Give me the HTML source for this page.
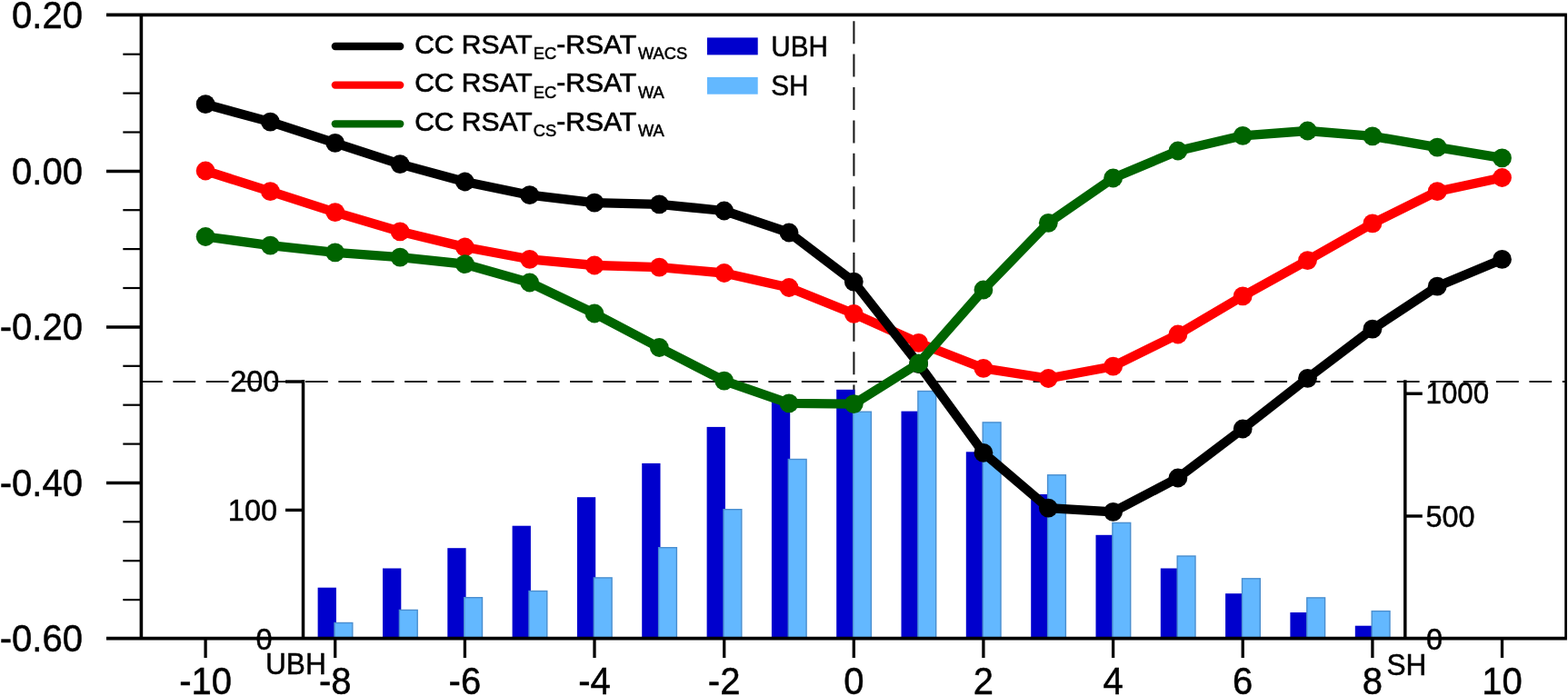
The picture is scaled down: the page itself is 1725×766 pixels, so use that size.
<!DOCTYPE html>
<html lang="en"><head><meta charset="utf-8"><title>Lead-lag correlation of RSAT with UBH and SH frequency</title>
<style>html,body{margin:0;padding:0;background:#fff;}body{width:1725px;height:766px;overflow:hidden;}svg{display:block;}text{font-family:"Liberation Sans", sans-serif;fill:#000;}</style>
</head><body>
<svg width="1725" height="766" viewBox="0 0 1725 766">
<rect x="0" y="0" width="1725" height="766" fill="#ffffff"/>
<g stroke="#1a1a1a" stroke-width="2.1" fill="none">
<line x1="939.4" y1="23.2" x2="939.4" y2="702.6" stroke-dasharray="25.0 11.4"/>
<line x1="154.0" y1="420.0" x2="1722.6" y2="420.0" stroke-dasharray="24.8 11.59" stroke-dashoffset="0"/>
</g>
<g>
<rect x="349.6" y="646.7" width="20.3" height="55.9" fill="#0000cd"/>
<rect x="421.0" y="625.5" width="20.3" height="77.1" fill="#0000cd"/>
<rect x="492.3" y="603.2" width="20.3" height="99.4" fill="#0000cd"/>
<rect x="563.6" y="578.7" width="20.3" height="123.9" fill="#0000cd"/>
<rect x="634.9" y="547.2" width="20.3" height="155.4" fill="#0000cd"/>
<rect x="706.2" y="509.9" width="20.3" height="192.7" fill="#0000cd"/>
<rect x="777.6" y="469.9" width="20.3" height="232.7" fill="#0000cd"/>
<rect x="848.9" y="440.0" width="20.3" height="262.6" fill="#0000cd"/>
<rect x="920.2" y="428.8" width="20.3" height="273.8" fill="#0000cd"/>
<rect x="991.5" y="452.6" width="20.3" height="250.0" fill="#0000cd"/>
<rect x="1062.8" y="497.3" width="20.3" height="205.3" fill="#0000cd"/>
<rect x="1134.2" y="544.0" width="20.3" height="158.6" fill="#0000cd"/>
<rect x="1205.5" y="588.8" width="20.3" height="113.8" fill="#0000cd"/>
<rect x="1276.8" y="625.5" width="20.3" height="77.1" fill="#0000cd"/>
<rect x="1348.1" y="653.2" width="20.3" height="49.4" fill="#0000cd"/>
<rect x="1419.4" y="674.0" width="20.3" height="28.6" fill="#0000cd"/>
<rect x="1490.8" y="688.7" width="20.3" height="13.9" fill="#0000cd"/>
<rect x="368.0" y="685.5" width="19.8" height="17.1" fill="#63b8ff" stroke="#4a8ecf" stroke-width="1.4"/>
<rect x="439.4" y="671.4" width="19.8" height="31.2" fill="#63b8ff" stroke="#4a8ecf" stroke-width="1.4"/>
<rect x="510.7" y="657.7" width="19.8" height="44.9" fill="#63b8ff" stroke="#4a8ecf" stroke-width="1.4"/>
<rect x="582.0" y="650.5" width="19.8" height="52.1" fill="#63b8ff" stroke="#4a8ecf" stroke-width="1.4"/>
<rect x="653.3" y="635.9" width="19.8" height="66.7" fill="#63b8ff" stroke="#4a8ecf" stroke-width="1.4"/>
<rect x="724.6" y="602.7" width="19.8" height="99.9" fill="#63b8ff" stroke="#4a8ecf" stroke-width="1.4"/>
<rect x="796.0" y="560.7" width="19.8" height="141.9" fill="#63b8ff" stroke="#4a8ecf" stroke-width="1.4"/>
<rect x="867.3" y="505.5" width="19.8" height="197.1" fill="#63b8ff" stroke="#4a8ecf" stroke-width="1.4"/>
<rect x="938.6" y="453.2" width="19.8" height="249.4" fill="#63b8ff" stroke="#4a8ecf" stroke-width="1.4"/>
<rect x="1009.9" y="430.5" width="19.8" height="272.1" fill="#63b8ff" stroke="#4a8ecf" stroke-width="1.4"/>
<rect x="1081.2" y="464.9" width="19.8" height="237.7" fill="#63b8ff" stroke="#4a8ecf" stroke-width="1.4"/>
<rect x="1152.6" y="522.8" width="19.8" height="179.8" fill="#63b8ff" stroke="#4a8ecf" stroke-width="1.4"/>
<rect x="1223.9" y="575.4" width="19.8" height="127.2" fill="#63b8ff" stroke="#4a8ecf" stroke-width="1.4"/>
<rect x="1295.2" y="612.0" width="19.8" height="90.6" fill="#63b8ff" stroke="#4a8ecf" stroke-width="1.4"/>
<rect x="1366.5" y="636.8" width="19.8" height="65.8" fill="#63b8ff" stroke="#4a8ecf" stroke-width="1.4"/>
<rect x="1437.8" y="657.9" width="19.8" height="44.7" fill="#63b8ff" stroke="#4a8ecf" stroke-width="1.4"/>
<rect x="1509.2" y="672.6" width="19.8" height="30.0" fill="#63b8ff" stroke="#4a8ecf" stroke-width="1.4"/>
</g>
<g stroke="#000" fill="none" stroke-linecap="butt">
<line x1="117.0" y1="16.3" x2="1723.9" y2="16.3" stroke-width="3.8"/>
<line x1="117.0" y1="702.7" x2="1723.9" y2="702.7" stroke-width="3.8"/>
<line x1="155.4" y1="16.4" x2="155.4" y2="702.6" stroke-width="3.6"/>
<line x1="1722.6" y1="16.4" x2="1722.6" y2="702.6" stroke-width="2.7"/>
<line x1="135.3" y1="59.7" x2="155.4" y2="59.7" stroke-width="2.2"/>
<line x1="135.3" y1="102.6" x2="155.4" y2="102.6" stroke-width="2.2"/>
<line x1="135.3" y1="145.5" x2="155.4" y2="145.5" stroke-width="2.2"/>
<line x1="117.0" y1="188.4" x2="155.4" y2="188.4" stroke-width="3.5"/>
<line x1="135.3" y1="231.2" x2="155.4" y2="231.2" stroke-width="2.2"/>
<line x1="135.3" y1="274.1" x2="155.4" y2="274.1" stroke-width="2.2"/>
<line x1="135.3" y1="317.0" x2="155.4" y2="317.0" stroke-width="2.2"/>
<line x1="117.0" y1="359.9" x2="155.4" y2="359.9" stroke-width="3.5"/>
<line x1="135.3" y1="402.8" x2="155.4" y2="402.8" stroke-width="2.2"/>
<line x1="135.3" y1="445.7" x2="155.4" y2="445.7" stroke-width="2.2"/>
<line x1="135.3" y1="488.6" x2="155.4" y2="488.6" stroke-width="2.2"/>
<line x1="117.0" y1="531.5" x2="155.4" y2="531.5" stroke-width="3.5"/>
<line x1="135.3" y1="574.3" x2="155.4" y2="574.3" stroke-width="2.2"/>
<line x1="135.3" y1="617.2" x2="155.4" y2="617.2" stroke-width="2.2"/>
<line x1="135.3" y1="660.1" x2="155.4" y2="660.1" stroke-width="2.2"/>
<line x1="226.1" y1="702.6" x2="226.1" y2="724.0" stroke-width="3.3"/>
<line x1="368.7" y1="702.6" x2="368.7" y2="724.0" stroke-width="3.3"/>
<line x1="511.4" y1="702.6" x2="511.4" y2="724.0" stroke-width="3.3"/>
<line x1="654.0" y1="702.6" x2="654.0" y2="724.0" stroke-width="3.3"/>
<line x1="796.7" y1="702.6" x2="796.7" y2="724.0" stroke-width="3.3"/>
<line x1="939.3" y1="702.6" x2="939.3" y2="724.0" stroke-width="3.3"/>
<line x1="1081.9" y1="702.6" x2="1081.9" y2="724.0" stroke-width="3.3"/>
<line x1="1224.6" y1="702.6" x2="1224.6" y2="724.0" stroke-width="3.3"/>
<line x1="1367.2" y1="702.6" x2="1367.2" y2="724.0" stroke-width="3.3"/>
<line x1="1509.9" y1="702.6" x2="1509.9" y2="724.0" stroke-width="3.3"/>
<line x1="1652.5" y1="702.6" x2="1652.5" y2="724.0" stroke-width="3.3"/>
<line x1="333.5" y1="418.3" x2="333.5" y2="702.6" stroke-width="3.5"/>
<line x1="1545.8" y1="418.3" x2="1545.8" y2="702.6" stroke-width="3.5"/>
<line x1="314.0" y1="420.0" x2="335.0" y2="420.0" stroke-width="3.4"/>
<line x1="314.0" y1="561.4" x2="333.5" y2="561.4" stroke-width="3.4"/>
<line x1="1545.8" y1="433.2" x2="1564.8" y2="433.2" stroke-width="3.4"/>
<line x1="1545.8" y1="568.0" x2="1564.8" y2="568.0" stroke-width="3.4"/>
</g>
<g fill="#ff0000" stroke="none">
<polyline points="226.1,188.0 297.4,210.7 368.7,233.6 440.1,254.8 511.4,272.0 582.7,285.3 654.0,292.0 725.3,294.1 796.7,300.5 868.0,316.5 939.3,345.3 1010.6,377.3 1081.9,405.3 1153.3,416.5 1224.6,403.2 1295.9,368.0 1367.2,325.9 1438.5,286.6 1509.9,245.9 1581.2,210.7 1652.5,195.5" fill="none" stroke="#ff0000" stroke-width="10.3" stroke-linejoin="round" stroke-linecap="round"/>
<ellipse cx="226.1" cy="188.0" rx="10.4" ry="10.4"/>
<ellipse cx="297.4" cy="210.7" rx="10.4" ry="10.4"/>
<ellipse cx="368.7" cy="233.6" rx="10.4" ry="10.4"/>
<ellipse cx="440.1" cy="254.8" rx="10.4" ry="10.4"/>
<ellipse cx="511.4" cy="272.0" rx="10.4" ry="10.4"/>
<ellipse cx="582.7" cy="285.3" rx="10.4" ry="10.4"/>
<ellipse cx="654.0" cy="292.0" rx="10.4" ry="10.4"/>
<ellipse cx="725.3" cy="294.1" rx="10.4" ry="10.4"/>
<ellipse cx="796.7" cy="300.5" rx="10.4" ry="10.4"/>
<ellipse cx="868.0" cy="316.5" rx="10.4" ry="10.4"/>
<ellipse cx="939.3" cy="345.3" rx="10.4" ry="10.4"/>
<ellipse cx="1010.6" cy="377.3" rx="10.4" ry="10.4"/>
<ellipse cx="1081.9" cy="405.3" rx="10.4" ry="10.4"/>
<ellipse cx="1153.3" cy="416.5" rx="10.4" ry="10.4"/>
<ellipse cx="1224.6" cy="403.2" rx="10.4" ry="10.4"/>
<ellipse cx="1295.9" cy="368.0" rx="10.4" ry="10.4"/>
<ellipse cx="1367.2" cy="325.9" rx="10.4" ry="10.4"/>
<ellipse cx="1438.5" cy="286.6" rx="10.4" ry="10.4"/>
<ellipse cx="1509.9" cy="245.9" rx="10.4" ry="10.4"/>
<ellipse cx="1581.2" cy="210.7" rx="10.4" ry="10.4"/>
<ellipse cx="1652.5" cy="195.5" rx="10.4" ry="10.4"/>
</g>
<g fill="#000000" stroke="none">
<polyline points="226.1,114.7 297.4,134.1 368.7,157.3 440.1,180.6 511.4,200.0 582.7,214.7 654.0,223.2 725.3,224.8 796.7,232.0 868.0,256.0 939.3,310.1 1010.6,400.6 1081.9,498.3 1153.3,559.1 1224.6,563.4 1295.9,526.0 1367.2,472.0 1438.5,416.3 1509.9,362.2 1581.2,315.2 1652.5,285.4" fill="none" stroke="#000000" stroke-width="10.3" stroke-linejoin="round" stroke-linecap="round"/>
<ellipse cx="226.1" cy="114.7" rx="10.4" ry="10.4"/>
<ellipse cx="297.4" cy="134.1" rx="10.4" ry="10.4"/>
<ellipse cx="368.7" cy="157.3" rx="10.4" ry="10.4"/>
<ellipse cx="440.1" cy="180.6" rx="10.4" ry="10.4"/>
<ellipse cx="511.4" cy="200.0" rx="10.4" ry="10.4"/>
<ellipse cx="582.7" cy="214.7" rx="10.4" ry="10.4"/>
<ellipse cx="654.0" cy="223.2" rx="10.4" ry="10.4"/>
<ellipse cx="725.3" cy="224.8" rx="10.4" ry="10.4"/>
<ellipse cx="796.7" cy="232.0" rx="10.4" ry="10.4"/>
<ellipse cx="868.0" cy="256.0" rx="10.4" ry="10.4"/>
<ellipse cx="939.3" cy="310.1" rx="10.4" ry="10.4"/>
<ellipse cx="1010.6" cy="400.6" rx="10.4" ry="10.4"/>
<ellipse cx="1081.9" cy="498.3" rx="10.4" ry="10.4"/>
<ellipse cx="1153.3" cy="559.1" rx="10.4" ry="10.4"/>
<ellipse cx="1224.6" cy="563.4" rx="10.4" ry="10.4"/>
<ellipse cx="1295.9" cy="526.0" rx="10.4" ry="10.4"/>
<ellipse cx="1367.2" cy="472.0" rx="10.4" ry="10.4"/>
<ellipse cx="1438.5" cy="416.3" rx="10.4" ry="10.4"/>
<ellipse cx="1509.9" cy="362.2" rx="10.4" ry="10.4"/>
<ellipse cx="1581.2" cy="315.2" rx="10.4" ry="10.4"/>
<ellipse cx="1652.5" cy="285.4" rx="10.4" ry="10.4"/>
</g>
<g fill="#006400" stroke="none">
<polyline points="226.1,260.5 297.4,270.1 368.7,277.9 440.1,283.2 511.4,290.7 582.7,311.0 654.0,345.0 725.3,382.5 796.7,419.2 868.0,443.9 939.3,444.6 1010.6,400.0 1081.9,319.0 1153.3,245.3 1224.6,196.0 1295.9,166.0 1367.2,149.3 1438.5,144.0 1509.9,149.9 1581.2,162.1 1652.5,173.9" fill="none" stroke="#006400" stroke-width="10.3" stroke-linejoin="round" stroke-linecap="round"/>
<ellipse cx="226.1" cy="260.5" rx="10.4" ry="10.4"/>
<ellipse cx="297.4" cy="270.1" rx="10.4" ry="10.4"/>
<ellipse cx="368.7" cy="277.9" rx="10.4" ry="10.4"/>
<ellipse cx="440.1" cy="283.2" rx="10.4" ry="10.4"/>
<ellipse cx="511.4" cy="290.7" rx="10.4" ry="10.4"/>
<ellipse cx="582.7" cy="311.0" rx="10.4" ry="10.4"/>
<ellipse cx="654.0" cy="345.0" rx="10.4" ry="10.4"/>
<ellipse cx="725.3" cy="382.5" rx="10.4" ry="10.4"/>
<ellipse cx="796.7" cy="419.2" rx="10.4" ry="10.4"/>
<ellipse cx="868.0" cy="443.9" rx="10.4" ry="10.4"/>
<ellipse cx="939.3" cy="444.6" rx="10.4" ry="10.4"/>
<ellipse cx="1010.6" cy="400.0" rx="10.4" ry="10.4"/>
<ellipse cx="1081.9" cy="319.0" rx="10.4" ry="10.4"/>
<ellipse cx="1153.3" cy="245.3" rx="10.4" ry="10.4"/>
<ellipse cx="1224.6" cy="196.0" rx="10.4" ry="10.4"/>
<ellipse cx="1295.9" cy="166.0" rx="10.4" ry="10.4"/>
<ellipse cx="1367.2" cy="149.3" rx="10.4" ry="10.4"/>
<ellipse cx="1438.5" cy="144.0" rx="10.4" ry="10.4"/>
<ellipse cx="1509.9" cy="149.9" rx="10.4" ry="10.4"/>
<ellipse cx="1581.2" cy="162.1" rx="10.4" ry="10.4"/>
<ellipse cx="1652.5" cy="173.9" rx="10.4" ry="10.4"/>
</g>
<g fill="none" stroke-width="8.3" stroke-linecap="round">
<line x1="368.8" y1="51.0" x2="440.2" y2="51.0" stroke="#000000"/>
<line x1="368.8" y1="93.6" x2="440.2" y2="93.6" stroke="#ff0000"/>
<line x1="368.8" y1="136.3" x2="440.2" y2="136.3" stroke="#006400"/>
</g>
<rect x="777.9" y="41.4" width="55.8" height="19.0" fill="#0000cd"/>
<rect x="777.9" y="84.9" width="55.8" height="18.8" fill="#63b8ff"/>
<text transform="translate(456.20,58.70) scale(1.0070,1)" font-size="29.80" text-anchor="start" stroke="#000" stroke-width="0.70">CC RSAT</text>
<text transform="translate(586.72,64.90) scale(1.0400,1)" font-size="17.60" text-anchor="start" stroke="#000" stroke-width="0.50">EC</text>
<text transform="translate(612.34,58.70) scale(1.0070,1)" font-size="29.80" text-anchor="start" stroke="#000" stroke-width="0.70">-RSAT</text>
<text transform="translate(701.92,64.90) scale(1.0400,1)" font-size="17.60" text-anchor="start" stroke="#000" stroke-width="0.50">WACS</text>
<text transform="translate(456.20,101.35) scale(1.0070,1)" font-size="29.80" text-anchor="start" stroke="#000" stroke-width="0.70">CC RSAT</text>
<text transform="translate(586.72,107.55) scale(1.0400,1)" font-size="17.60" text-anchor="start" stroke="#000" stroke-width="0.50">EC</text>
<text transform="translate(612.34,101.35) scale(1.0070,1)" font-size="29.80" text-anchor="start" stroke="#000" stroke-width="0.70">-RSAT</text>
<text transform="translate(701.92,107.55) scale(1.0400,1)" font-size="17.60" text-anchor="start" stroke="#000" stroke-width="0.50">WA</text>
<text transform="translate(456.20,144.00) scale(1.0070,1)" font-size="29.80" text-anchor="start" stroke="#000" stroke-width="0.70">CC RSAT</text>
<text transform="translate(586.72,150.20) scale(1.0400,1)" font-size="17.60" text-anchor="start" stroke="#000" stroke-width="0.50">CS</text>
<text transform="translate(612.34,144.00) scale(1.0070,1)" font-size="29.80" text-anchor="start" stroke="#000" stroke-width="0.70">-RSAT</text>
<text transform="translate(701.92,150.20) scale(1.0400,1)" font-size="17.60" text-anchor="start" stroke="#000" stroke-width="0.50">WA</text>
<text transform="translate(848.30,61.70) scale(0.9690,1)" font-size="30.60" text-anchor="start" stroke="#000" stroke-width="0.50">UBH</text>
<text transform="translate(848.30,104.50) scale(0.9690,1)" font-size="30.60" text-anchor="start" stroke="#000" stroke-width="0.50">SH</text>
<text transform="translate(91.00,31.20) scale(0.9580,1)" font-size="41.80" text-anchor="end" stroke="#000" stroke-width="0.50">0.20</text>
<text transform="translate(91.00,202.75) scale(0.9580,1)" font-size="41.80" text-anchor="end" stroke="#000" stroke-width="0.50">0.00</text>
<text transform="translate(91.00,374.30) scale(0.9580,1)" font-size="41.80" text-anchor="end" stroke="#000" stroke-width="0.50">-0.20</text>
<text transform="translate(91.00,545.85) scale(0.9580,1)" font-size="41.80" text-anchor="end" stroke="#000" stroke-width="0.50">-0.40</text>
<text transform="translate(91.00,717.40) scale(0.9580,1)" font-size="41.80" text-anchor="end" stroke="#000" stroke-width="0.50">-0.60</text>
<text transform="translate(226.10,764.00) scale(0.9580,1)" font-size="41.80" text-anchor="middle" stroke="#000" stroke-width="0.50">-10</text>
<text transform="translate(368.74,764.00) scale(0.9580,1)" font-size="41.80" text-anchor="middle" stroke="#000" stroke-width="0.50">-8</text>
<text transform="translate(511.38,764.00) scale(0.9580,1)" font-size="41.80" text-anchor="middle" stroke="#000" stroke-width="0.50">-6</text>
<text transform="translate(654.02,764.00) scale(0.9580,1)" font-size="41.80" text-anchor="middle" stroke="#000" stroke-width="0.50">-4</text>
<text transform="translate(796.66,764.00) scale(0.9580,1)" font-size="41.80" text-anchor="middle" stroke="#000" stroke-width="0.50">-2</text>
<text transform="translate(939.30,764.00) scale(0.9580,1)" font-size="41.80" text-anchor="middle" stroke="#000" stroke-width="0.50">0</text>
<text transform="translate(1081.94,764.00) scale(0.9580,1)" font-size="41.80" text-anchor="middle" stroke="#000" stroke-width="0.50">2</text>
<text transform="translate(1224.58,764.00) scale(0.9580,1)" font-size="41.80" text-anchor="middle" stroke="#000" stroke-width="0.50">4</text>
<text transform="translate(1367.22,764.00) scale(0.9580,1)" font-size="41.80" text-anchor="middle" stroke="#000" stroke-width="0.50">6</text>
<text transform="translate(1509.86,764.00) scale(0.9580,1)" font-size="41.80" text-anchor="middle" stroke="#000" stroke-width="0.50">8</text>
<text transform="translate(1652.50,764.00) scale(0.9580,1)" font-size="41.80" text-anchor="middle" stroke="#000" stroke-width="0.50">10</text>
<text transform="translate(307.30,431.30) scale(0.9580,1)" font-size="33.90" text-anchor="end" stroke="#000" stroke-width="0.50">200</text>
<text transform="translate(305.00,572.70) scale(0.9580,1)" font-size="33.90" text-anchor="end" stroke="#000" stroke-width="0.50">100</text>
<text transform="translate(299.50,715.00) scale(0.9580,1)" font-size="33.90" text-anchor="end" stroke="#000" stroke-width="0.50">0</text>
<text transform="translate(1568.50,444.20) scale(0.9250,1)" font-size="33.90" text-anchor="start" stroke="#000" stroke-width="0.50">1000</text>
<text transform="translate(1568.50,580.00) scale(0.9580,1)" font-size="33.90" text-anchor="start" stroke="#000" stroke-width="0.50">500</text>
<text transform="translate(1569.00,715.00) scale(0.9580,1)" font-size="33.90" text-anchor="start" stroke="#000" stroke-width="0.50">0</text>
<text transform="translate(292.00,742.00) scale(0.9580,1)" font-size="33.00" text-anchor="start" stroke="#000" stroke-width="0.50">UBH</text>
<text transform="translate(1525.50,742.50) scale(0.9580,1)" font-size="33.00" text-anchor="start" stroke="#000" stroke-width="0.50">SH</text>
</svg>
</body></html>
